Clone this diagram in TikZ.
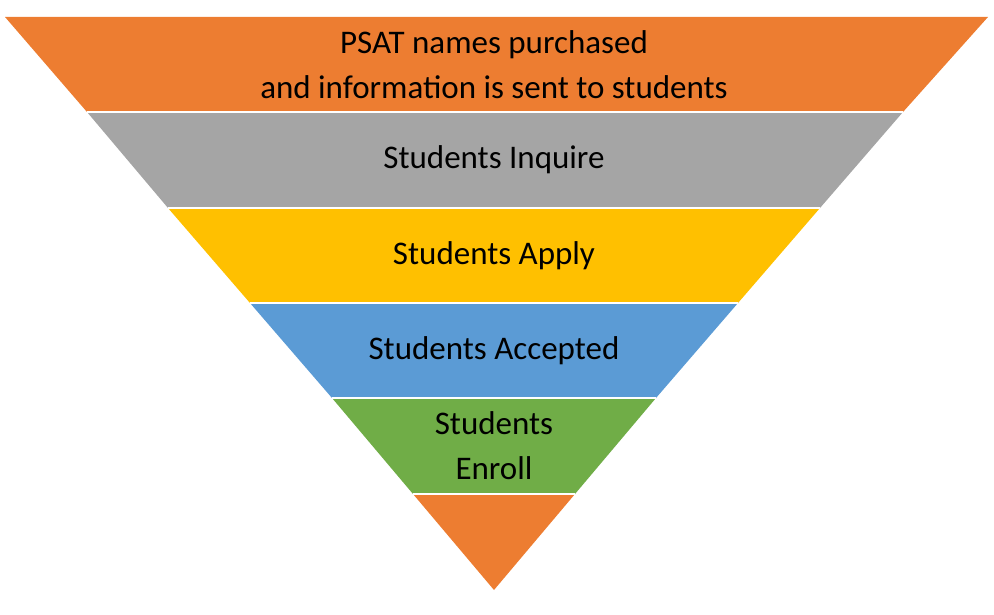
\documentclass[tikz,border=0pt]{standalone}
\usepackage{fontspec}
\setmainfont{Carlito}
\definecolor{funnelorange}{HTML}{ED7D31}
\definecolor{funnelgray}{HTML}{A5A5A5}
\definecolor{funnelgold}{HTML}{FFC000}
\definecolor{funnelblue}{HTML}{5B9BD5}
\definecolor{funnelgreen}{HTML}{70AD47}
\begin{document}
\begin{tikzpicture}[x=1pt, y=-1pt,
    band/.style={draw=white, line width=2.5pt, line join=miter},
    label/.style={text=black, align=center, font=\fontsize{33}{45}\selectfont}
]
\useasboundingbox (0,0) rectangle (994,615);
% funnel bands, top to bottom
\fill[funnelorange] (5,17) -- (988,17) -- (903,112) -- (87,112) -- cycle;
\fill[funnelgray] (87,112) -- (903,112) -- (820,208) -- (168,208) -- cycle;
\fill[funnelgold] (168,208) -- (820,208) -- (738,303) -- (250,303) -- cycle;
\fill[funnelblue] (250,303) -- (738,303) -- (656,398) -- (332,398) -- cycle;
\fill[funnelgreen] (332,398) -- (656,398) -- (575,494) -- (413,494) -- cycle;
\fill[funnelorange] (413,494) -- (575,494) -- (494,590) -- cycle;
\foreach \y/\xl/\xr in {112/87/903, 208/168/820, 303/250/738, 398/332/656, 494/413/575}
    \draw[band] (\xl,\y) -- (\xr,\y);
\node (names) [label] at (494,65) {PSAT names purchased\\and information is sent to students};
\node (inquire) [label] at (494,160) {Students Inquire};
\node (apply) [label] at (494,256) {Students Apply};
\node (accepted) [label] at (494,351) {Students Accepted};
\node (enroll) [label] at (494,446) {Students\\Enroll};
\end{tikzpicture}
\end{document}
